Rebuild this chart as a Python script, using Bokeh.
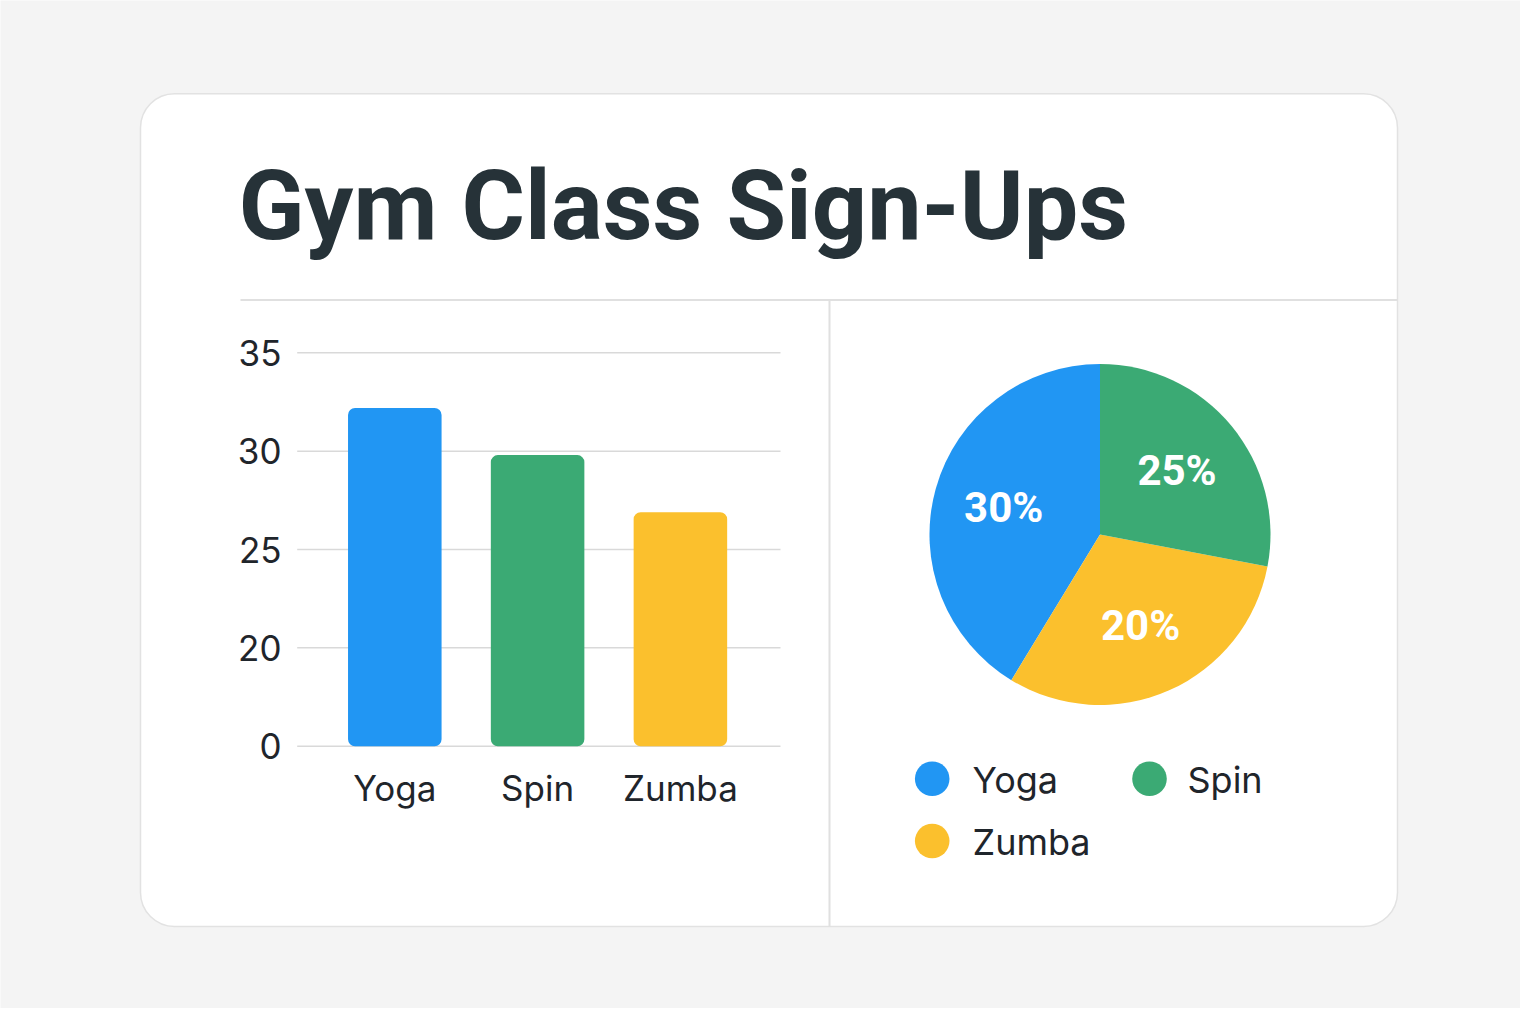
import math
from bokeh.plotting import figure
from bokeh.models import Range1d, ColumnDataSource
from bokeh.core.properties import value
from bokeh.embed import file_html
from bokeh.resources import INLINE

# ---------------- data ----------------
TITLE = "Gym Class Sign-Ups"
categories = ["Yoga", "Spin", "Zumba"]
signups = [32.2, 29.8, 26.9]
# broken value axis: the baseline labelled "0" sits where 15 would be
axis_base = 15
axis_tick_values = [15, 20, 25, 30, 35]
axis_tick_labels = ["0", "20", "25", "30", "35"]
# pie slice sizes as drawn, and the labels printed on them
pie_shares = [41.3, 28.0, 30.7]
pie_labels = ["30%", "25%", "20%"]
colors = ["#2196F3", "#3BAA74", "#FBC02D"]

# ---------------- layout (image pixel coordinates) ----------------
W, H = 1520, 1008
FONT = "Inter"
BOLD_FONT = "Roboto"
TEXT_DARK = "#1f252b"
TITLE_COLOR = "#263238"
BAR_X0_PX, BAR_STEP_PX, BAR_WIDTH = 394.3, 142.8, 0.655
BASE_PX, PX_PER_UNIT = 745.7, 98.35 / 5
GRID_X0, GRID_X1 = 296.7, 780
PIE_CX, PIE_CY, PIE_R, PIE_LABEL_R = 1099.5, 534.0, 170.5, 100.0
pie_draw_order = [0, 2, 1]  # anticlockwise from 12 o'clock
legend_dot_xy = [(931.7, 778.3), (1149.0, 778.3), (931.7, 840.5)]
legend_text_xy = [(972.0, 779.5), (1187.0, 779.5), (972.0, 841.5)]

p = figure(width=W, height=H,
           x_range=Range1d(0, W), y_range=Range1d(H, 0),
           output_backend="svg", toolbar_location=None,
           x_axis_location=None, y_axis_location=None, min_border=0)
p.outline_line_color = None
p.grid.visible = False
p.background_fill_color = "#f4f4f4"
p.border_fill_color = "#f4f4f4"

p.extra_x_ranges = {"bx": Range1d((0 - BAR_X0_PX) / BAR_STEP_PX,
                                  (W - BAR_X0_PX) / BAR_STEP_PX)}
p.extra_y_ranges = {
    "by": Range1d(axis_base - (H - BASE_PX) / PX_PER_UNIT,
                  axis_base + BASE_PX / PX_PER_UNIT),
    "up": Range1d(-H, 0),
}

# card
p.quad(left=140, right=1397, top=93.3, bottom=926, fill_color="#ffffff",
       line_color="#e2e2e2", line_width=1.5, border_radius=34)

# title
p.text(x=[238], y=[205], text=[TITLE], text_font=value(BOLD_FONT),
       text_font_style="bold", text_font_size="97px", text_color=TITLE_COLOR,
       text_align="left", text_baseline="middle")

# divider lines
p.segment(x0=[240, 829], y0=[299.5, 299.5], x1=[1397, 829], y1=[299.5, 926],
          line_color="#e0e0e0", line_width=2)

# ---------------- bar chart ----------------
tick_src = ColumnDataSource(dict(v=axis_tick_values, lab=axis_tick_labels))
p.segment(x0=GRID_X0, x1=GRID_X1, y0="v", y1="v", source=tick_src,
          y_range_name="by", line_color="#d9d9d9", line_width=1.5)
p.text(x=281, y="v", text="lab", source=tick_src, y_range_name="by",
       text_font=value(FONT), text_font_size="35px", text_color=TEXT_DARK,
       text_align="right", text_baseline="middle")

bar_src = ColumnDataSource(dict(x=list(range(len(categories))), top=signups,
                                cat=categories, color=colors))
p.vbar(x="x", width=BAR_WIDTH, bottom=axis_base, top="top", source=bar_src,
       fill_color="color", line_color=None, border_radius=7,
       x_range_name="bx", y_range_name="by")
p.text(x="x", y=787, text="cat", source=bar_src, x_range_name="bx",
       text_font=value(FONT), text_font_size="35px", text_color=TEXT_DARK,
       text_align="center", text_baseline="middle")

# ---------------- pie chart ----------------
starts, ends, wcolors, lx, ly, ltext = [], [], [], [], [], []
ang = math.pi / 2
for i in pie_draw_order:
    span = pie_shares[i] / sum(pie_shares) * 2 * math.pi
    starts.append(ang)
    ends.append(ang + span)
    wcolors.append(colors[i])
    mid = ang + span / 2
    lx.append(PIE_CX + PIE_LABEL_R * math.cos(mid))
    ly.append(-PIE_CY + PIE_LABEL_R * math.sin(mid))
    ltext.append(pie_labels[i])
    ang += span

pie_src = ColumnDataSource(dict(s=starts, e=ends, c=wcolors, lx=lx, ly=ly, t=ltext))
p.wedge(x=PIE_CX, y=-PIE_CY, radius=PIE_R, start_angle="s", end_angle="e",
        direction="anticlock", fill_color="c", line_color=None,
        source=pie_src, y_range_name="up")
p.text(x="lx", y="ly", text="t", source=pie_src, y_range_name="up",
       text_font=value(BOLD_FONT), text_font_style="bold", text_font_size="42px",
       text_color="#ffffff", text_align="center", text_baseline="middle")

# legend
leg_src = ColumnDataSource(dict(
    dx=[xy[0] for xy in legend_dot_xy], dy=[xy[1] for xy in legend_dot_xy],
    tx=[xy[0] for xy in legend_text_xy], ty=[xy[1] for xy in legend_text_xy],
    c=colors, t=categories))
p.scatter(x="dx", y="dy", size=34.6, marker="circle", fill_color="c",
          line_color=None, source=leg_src)
p.text(x="tx", y="ty", text="t", source=leg_src, text_font=value(FONT),
       text_font_size="36px", text_color=TEXT_DARK, text_align="left",
       text_baseline="middle")

open("out.html", "w").write(file_html(p, INLINE))
